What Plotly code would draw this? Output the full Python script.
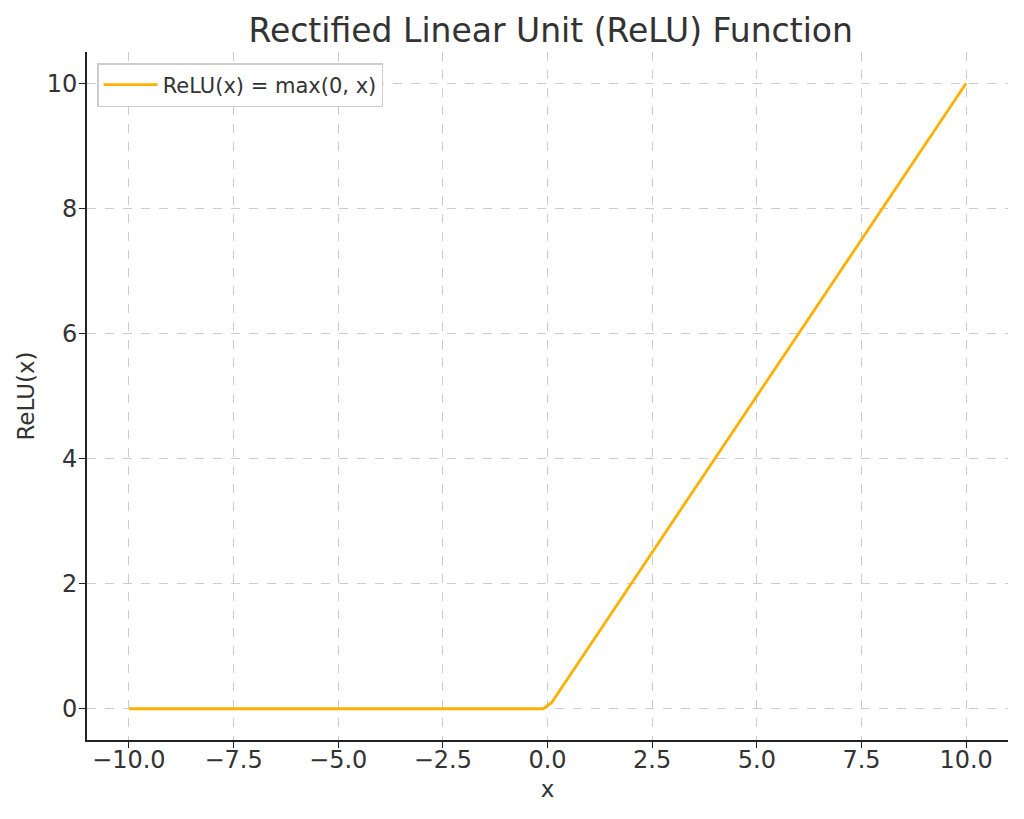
import plotly.graph_objects as go

# Breakpoints (line is piecewise linear between them)
x_vals = [-10.0, -0.101, 0.101, 10.0]
y_vals = [0.0, 0.0, 0.101, 10.0]

x_ticks = [-10.0, -7.5, -5.0, -2.5, 0.0, 2.5, 5.0, 7.5, 10.0]
x_tick_labels = ["−10.0", "−7.5", "−5.0", "−2.5", "0.0", "2.5", "5.0", "7.5", "10.0"]
y_ticks = [0, 2, 4, 6, 8, 10]
y_tick_labels = ["0", "2", "4", "6", "8", "10"]

title_text = "Rectified Linear Unit (ReLU) Function"
series_name = "ReLU(x) = max(0, x)"

font_family = "DejaVu Sans, sans-serif"
text_color = "#333333"

fig = go.Figure()
fig.add_trace(go.Scatter(
    x=x_vals, y=y_vals, mode="lines", name=series_name,
    line=dict(color="#FFB000", width=2.8),
))

axis_common = dict(
    showline=True, linecolor="#222222", linewidth=1.6,
    ticks="outside", ticklen=6, tickwidth=1.3, tickcolor="#222222",
    showgrid=True, gridcolor="#cccccc", griddash="dash", gridwidth=1,
    zeroline=False, mirror=False,
    tickfont=dict(family=font_family, size=24, color=text_color),
)

fig.update_layout(
    width=1024, height=819,
    margin=dict(l=79, r=24, t=44, b=87),
    paper_bgcolor="white", plot_bgcolor="white",
    title=dict(text=title_text, x=0.53, xanchor="center", y=0.973, yanchor="middle",
               font=dict(family=font_family, size=33, color=text_color)),
    xaxis=dict(range=[-11, 11], tickvals=x_ticks, ticktext=x_tick_labels,
               ticklabelstandoff=-9,
               title=dict(text="x", font=dict(family=font_family, size=23, color=text_color), standoff=8),
               **axis_common),
    yaxis=dict(range=[-0.5, 10.5], tickvals=y_ticks, ticktext=y_tick_labels,
               ticklabelstandoff=-3,
               title=dict(text="ReLU(x)", font=dict(family=font_family, size=23, color=text_color), standoff=6),
               **axis_common),
    showlegend=True,
    legend=dict(x=0.011, y=0.984, xanchor="left", yanchor="top",
                bgcolor="white", bordercolor="#cccccc", borderwidth=1.5,
                itemwidth=54,
                font=dict(family=font_family, size=21, color=text_color)),
)

fig.write_html("out.html")
